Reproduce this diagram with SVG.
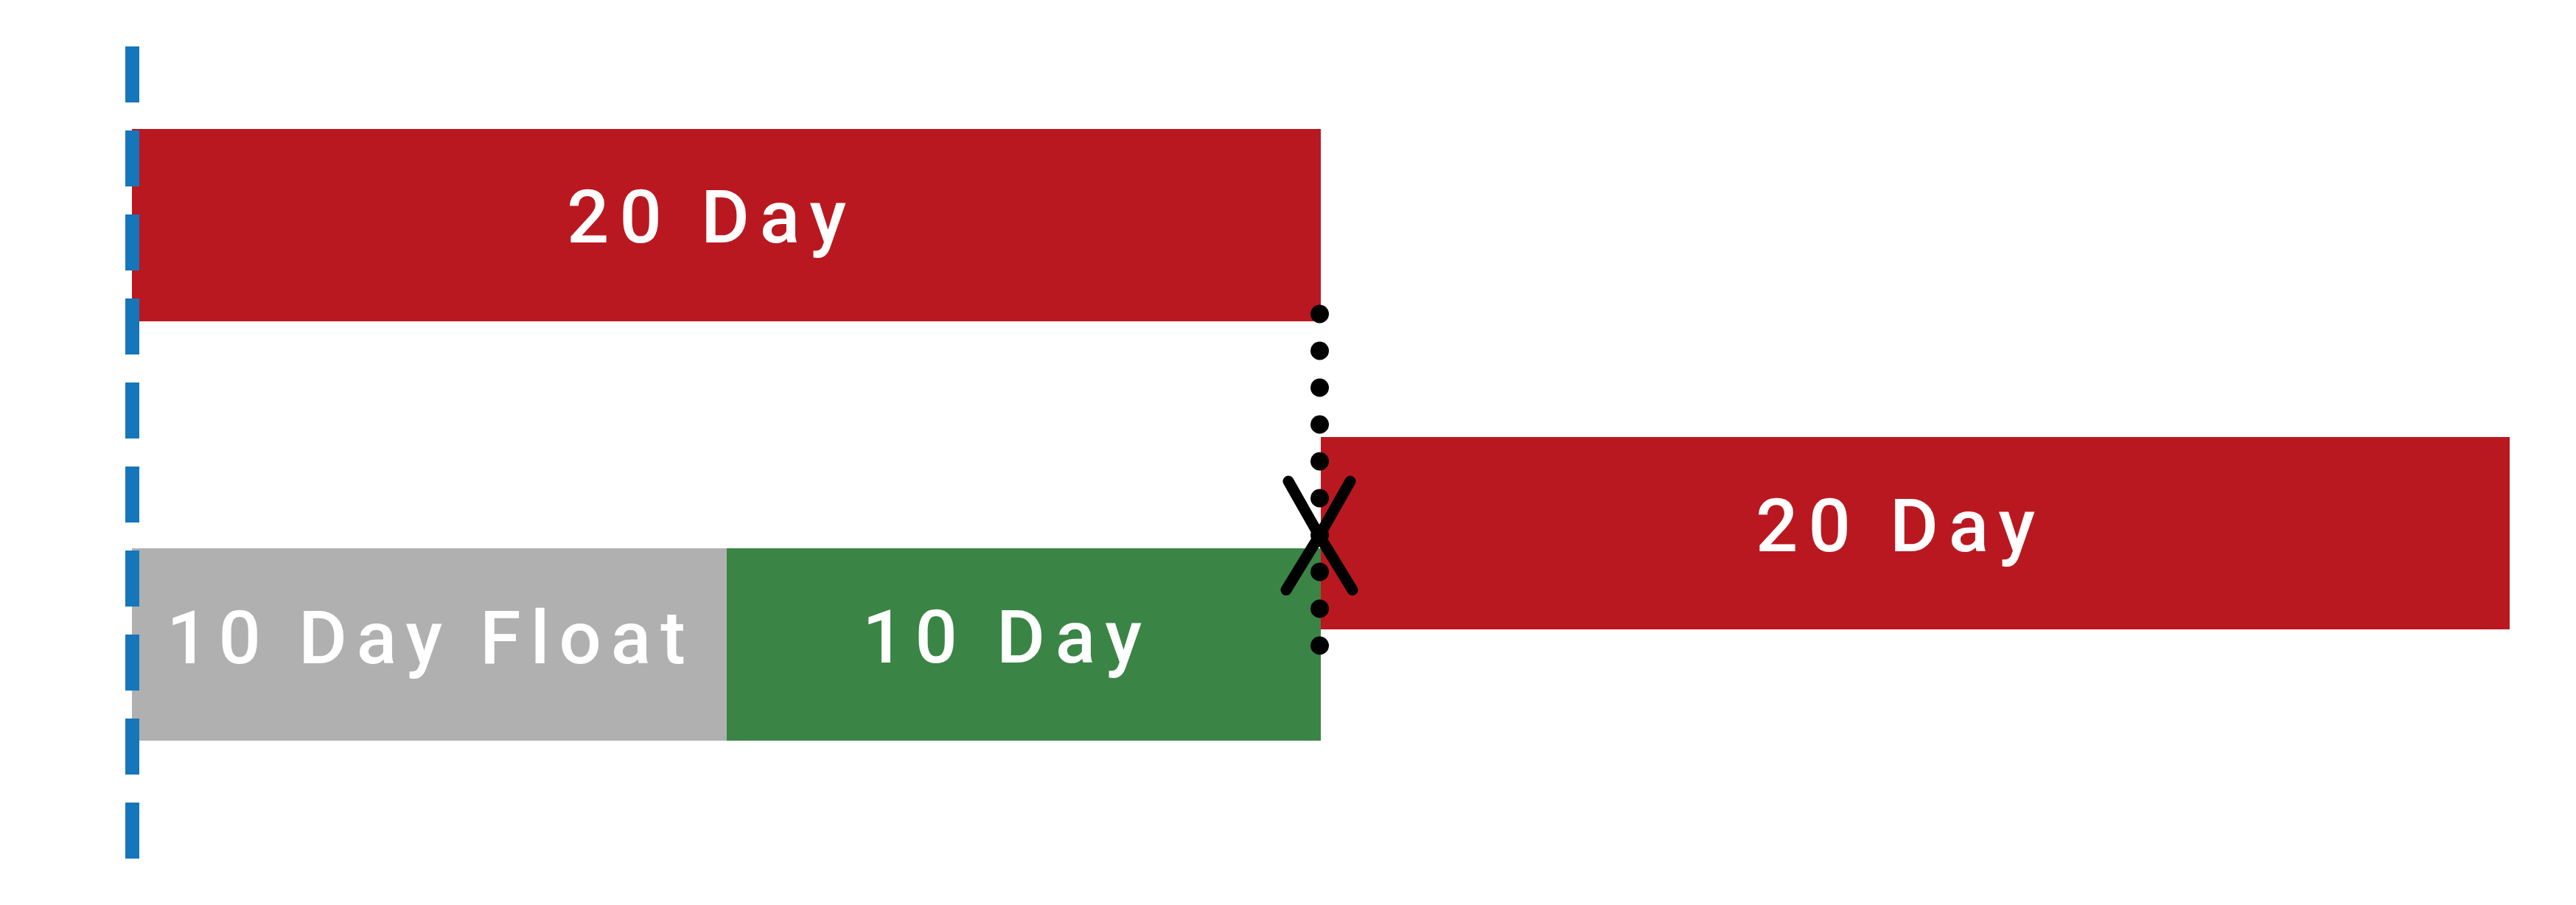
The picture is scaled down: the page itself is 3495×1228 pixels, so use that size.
<svg xmlns="http://www.w3.org/2000/svg" width="3495" height="1228" viewBox="0 0 3495 1228">
<style>
.lbl{font-family:Roboto,"Liberation Sans",Arial,sans-serif;font-size:101px;font-weight:500;fill:#FFFFFF;letter-spacing:14px}
.red{fill:#BA1820}
.dot{fill:#000000}
</style>
<rect x="0" y="0" width="3495" height="1228" fill="#FFFFFF"/>
<g id="task-top">
<rect class="red" x="179" y="175" width="1613" height="261"/>
<text class="lbl" x="769" y="329">20 Day</text>
</g>
<g id="task-right">
<rect class="red" x="1792" y="593" width="1613" height="261"/>
<text class="lbl" x="2382" y="748">20 Day</text>
</g>
<g id="float">
<rect x="179" y="744" width="807" height="261" fill="#B0B0B0"/>
<text class="lbl" x="226" y="900" style="letter-spacing:13px">10 Day Float</text>
</g>
<g id="task-green">
<rect x="986" y="744" width="806" height="261" fill="#3A8545"/>
<text class="lbl" x="1170" y="899">10 Day</text>
</g>
<g id="connectors">
<line x1="179.5" y1="63" x2="179.5" y2="1165" stroke="#1576BA" stroke-width="19" stroke-dasharray="76 38"/>
<g id="dots">
<circle class="dot" cx="1790.5" cy="426" r="12.5"/>
<circle class="dot" cx="1790.5" cy="476" r="12.5"/>
<circle class="dot" cx="1790.5" cy="526" r="12.5"/>
<circle class="dot" cx="1790.5" cy="576" r="12.5"/>
<circle class="dot" cx="1790.5" cy="626" r="12.5"/>
<circle class="dot" cx="1790.5" cy="676" r="12.5"/>
<circle class="dot" cx="1790.5" cy="726" r="12.5"/>
<circle class="dot" cx="1790.5" cy="776" r="12.5"/>
<circle class="dot" cx="1790.5" cy="826" r="12.5"/>
<circle class="dot" cx="1790.5" cy="876" r="12.5"/>
</g>
<g id="cross" fill="none" stroke="#000000" stroke-width="15" stroke-linecap="round" stroke-linejoin="round">
<polyline points="1748,653 1790,727 1835,800.5"/>
<polyline points="1832,653 1790,727 1745,800.5"/>
</g>
</g>
</svg>
